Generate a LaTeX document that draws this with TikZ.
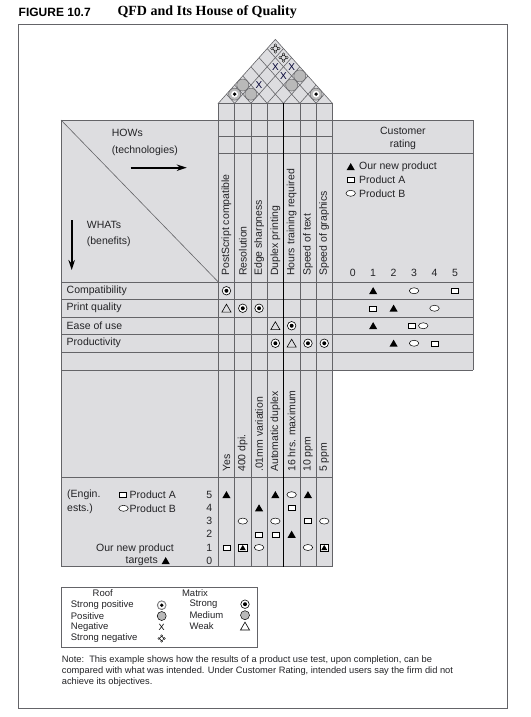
\documentclass[tikz,border=0pt]{standalone}
\usepackage{fontspec}
\setmainfont{Liberation Sans}
\newfontfamily\titleserif{Liberation Serif}
\usetikzlibrary{shapes.geometric, arrows.meta, positioning, calc}

\definecolor{panel}{RGB}{221,221,224}
\definecolor{rule}{RGB}{100,100,104}
\definecolor{ink}{RGB}{35,35,38}

\def\gridx{218.3}
\def\colw{16.3}
\def\roofh{9.13}

\begin{document}
\begin{tikzpicture}[
    x=1pt, y=-1pt,
    font=\fontsize{10.5}{12}\selectfont, text=ink,
    grid/.style={draw=rule, line width=0.6pt},
    txt/.style={inner sep=0pt, anchor=west},
    colhead/.style={rotate=90, anchor=west, inner sep=0pt},
    ourmark/.style={regular polygon, regular polygon sides=3, fill=black, inner sep=0pt,
      minimum size=9.5pt, yshift=-1.1pt},
    amark/.style={rectangle, draw=black, fill=white, line width=0.5pt, inner sep=0pt,
      minimum width=7pt, minimum height=5pt},
    bmark/.style={ellipse, draw=black, fill=white, line width=0.5pt, inner sep=0pt,
      minimum width=9.5pt, minimum height=6pt},
    strongrel/.style={circle, draw=black, fill=white, line width=0.6pt, inner sep=0pt,
      minimum size=8.5pt, path picture={\fill[black] (path picture bounding box.center) circle (2pt);}},
    mediumrel/.style={circle, draw=black, fill=gray!55, line width=0.5pt, inner sep=0pt, minimum size=9pt},
    weakrel/.style={regular polygon, regular polygon sides=3, draw=black, line width=0.6pt,
      inner sep=0pt, minimum size=10.5pt, yshift=-1.2pt},
    roofstrong/.style={circle, draw=rule, fill=gray!55, line width=0.5pt, inner sep=0pt,
      minimum size=12pt, path picture={\fill[white] (path picture bounding box.center) circle (3.4pt);
        \fill[black] (path picture bounding box.center) circle (1.9pt);}},
    roofplus/.style={circle, draw=rule, fill=gray!55, line width=0.5pt, inner sep=0pt, minimum size=12pt},
    roofminus/.style={inner sep=0pt, font=\fontsize{10}{10}\selectfont, text=black!80!blue},
    roofsneg/.style={diamond, draw=black, line width=0.5pt, inner sep=0pt, minimum size=6.5pt},
    arrow/.style={line width=1.6pt, -{Stealth[length=10pt, width=6.5pt]}}
]
\useasboundingbox (0,0) rectangle (530,717);

% title and frame
\node[txt, font=\fontsize{12}{12}\selectfont\bfseries, text=black] (fig) at (18.5,12.5) {FIGURE 10.7};
\node[txt, font=\titleserif\fontsize{14}{14}\selectfont\bfseries, text=black] (title) at (117.3,12.5) {QFD and Its House of Quality};
\draw[rule, line width=0.6pt] (18,24) rectangle (507,708);

% panels
\fill[panel] (61,120) rectangle (473.3,370);
\fill[panel] (61,370) rectangle (332.4,566.7);
\fill[panel] (\gridx,103.3) rectangle (332.4,120);
\filldraw[fill=panel, grid] (\gridx,103.3) -- ({\gridx+3.5*\colw},{103.3-7*\roofh}) -- (332.4,103.3) -- cycle;

% roof lattice
\foreach \a in {1,...,6} {
  \draw[grid] ({\gridx+\a*\colw},103.3) -- ({\gridx+(\a+7)*\colw/2},{103.3-(7-\a)*\roofh});
  \draw[grid] ({\gridx+\a*\colw},103.3) -- ({\gridx+\a*\colw/2},{103.3-\a*\roofh});
}

% grid lines
\draw[grid] (61,120) -- (473.3,120);
\draw[grid] (332.4,153.3) -- (473.3,153.3);
\foreach \y in {103.3,136.7,153.3} \draw[grid] (\gridx,\y) -- (332.4,\y);
\foreach \y in {282,299.5,317,334.5,352,370} \draw[grid] (61,\y) -- (473.3,\y);
\foreach \y in {477.3,566.7} \draw[grid] (61,\y) -- (332.4,\y);
\foreach \i in {0,...,7} \draw[grid] ({\gridx+\i*\colw},103.3) -- ({\gridx+\i*\colw},566.7);
\draw[black, line width=0.8pt] ({\gridx+4*\colw},103.3) -- ({\gridx+4*\colw},566.7);
\draw[grid] (61,120) -- (61,566.7);
\draw[grid] (473.3,120) -- (473.3,370);
\draw[grid] (61,120) -- (\gridx,282);

% roof correlations
\foreach \i/\j [count=\k] in {0/1,5/6}
  \node[roofstrong] (roof-sp-\k) at ({\gridx+(\i+\j+1)*\colw/2},{103.3-(\j-\i)*\roofh}) {};
\foreach \i/\j [count=\k] in {0/2,1/2,3/5,3/6}
  \node[roofplus] (roof-p-\k) at ({\gridx+(\i+\j+1)*\colw/2},{103.3-(\j-\i)*\roofh}) {};
\foreach \i/\j [count=\k] in {1/3,1/5,2/5,2/6}
  \node[roofminus] (roof-n-\k) at ({\gridx+(\i+\j+1)*\colw/2},{103.3-(\j-\i)*\roofh}) {X};
\foreach \i/\j [count=\k] in {0/6,1/6} {
  \node[roofsneg] (roof-sn-\k) at ({\gridx+(\i+\j+1)*\colw/2},{103.3-(\j-\i)*\roofh}) {};
  \foreach \a in {north,south,east,west} \draw[line width=0.4pt, fill=white] (roof-sn-\k.\a) circle (1.2pt);
}

% headers
\node[txt] (hows) at (111.7,133.3) {HOWs};
\node[txt] (hows-sub) at (111.7,150.7) {(technologies)};
\coordinate (howtail) at (130.7,167.7);
\coordinate (howhead) at (186.7,167.7);
\draw[arrow] (howtail) -- (howhead);
\node[txt] (whats) at (86.7,225) {WHATs};
\node[txt] (whats-sub) at (86.7,241.7) {(benefits)};
\coordinate (whattail) at (71.7,220);
\coordinate (whathead) at (71.7,270);
\draw[arrow] (whattail) -- (whathead);

\foreach \t [count=\c] in {PostScript compatible, Resolution, Edge sharpness, Duplex printing,
    Hours training required, Speed of text, Speed of graphics}
  \node[colhead] (how-\c) at ({\gridx+(\c-0.5)*\colw},276) {\t};
\foreach \t [count=\r] in {Compatibility, Print quality, Ease of use, Productivity}
  \node[txt] (what-\r) at (66.5,{282+(\r-0.5)*17.5}) {\t};

% relationship matrix
\foreach \c/\r [count=\k] in {1/1,2/2,3/2,5/3,4/4,6/4,7/4}
  \node[strongrel] (rel-s-\k) at ({\gridx+(\c-0.5)*\colw},{282+(\r-0.5)*17.5}) {};
\foreach \c/\r [count=\k] in {1/2,4/3,5/4}
  \node[weakrel] (rel-w-\k) at ({\gridx+(\c-0.5)*\colw},{282+(\r-0.5)*17.5}) {};

% customer rating
\node[inner sep=0pt, align=center] (rating) at (402.9,138.4) {Customer\\[1.4pt]rating};
\node[ourmark] (key-our) at (350.7,166.7) {};
\node[txt] (key-our-t) at (359,166.7) {Our new product};
\node[amark] (key-a) at (350.7,180) {};
\node[txt] (key-a-t) at (359,180) {Product A};
\node[bmark] (key-b) at (350.7,193.3) {};
\node[txt] (key-b-t) at (359,193.3) {Product B};
\foreach \v in {0,...,5}
  \node[inner sep=0pt] (scale-\v) at ({352.7+\v*20.45},273.3) {\v};
\foreach \v/\r [count=\k] in {1/1,2/2,1/3,2/4}
  \node[ourmark] (cr-our-\k) at ({352.7+\v*20.45},{282+(\r-0.5)*17.5}) {};
\foreach \v/\r [count=\k] in {5/1,1/2,2.9/3,4/4}
  \node[amark] (cr-a-\k) at ({352.7+\v*20.45},{282+(\r-0.5)*17.5}) {};
\foreach \v/\r [count=\k] in {3/1,4/2,3.45/3,3/4}
  \node[bmark] (cr-b-\k) at ({352.7+\v*20.45},{282+(\r-0.5)*17.5}) {};

% target values
\foreach \t [count=\c] in {Yes, 400 dpi., .01mm variation, Automatic duplex,
    16 hrs. maximum, 10 ppm, 5 ppm}
  \node[colhead] (spec-\c) at ({\gridx+(\c-0.5)*\colw},472) {\t};

% engineering estimates
\node[txt] (engin) at (67,495) {(Engin.};
\node[txt] (ests) at (67,508.3) {ests.)};
\node[amark] (est-a) at (123,495) {};
\node[txt] (est-a-t) at (129.5,495) {Product A};
\node[bmark] (est-b) at (123.5,508.3) {};
\node[txt] (est-b-t) at (129.5,508.3) {Product B};
\node[inner sep=0pt] (targets) at (135,548.3) {Our new product};
\node[inner sep=0pt, anchor=east] (targets-t) at (158,560.7) {targets};
\node[ourmark] (targets-m) at (165.7,560.7) {};
\foreach \v in {0,...,5}
  \node[inner sep=0pt] (lvl-\v) at (209.3,{560.7-\v*13.2}) {\v};
\foreach \c/\v [count=\k] in {1/5,3/4,4/5,5/2,6/5}
  \node[ourmark] (tg-our-\k) at ({\gridx+(\c-0.5)*\colw},{560.7-\v*13.2}) {};
\foreach \c/\v [count=\k] in {1/1,3/2,4/2,5/4,6/3}
  \node[amark] (tg-a-\k) at ({\gridx+(\c-0.5)*\colw},{560.7-\v*13.2}) {};
\foreach \c/\v [count=\k] in {2/3,3/1,4/3,5/5,6/1,7/3}
  \node[bmark] (tg-b-\k) at ({\gridx+(\c-0.5)*\colw},{560.7-\v*13.2}) {};
\foreach \c [count=\k] in {2,7} {
  \node[amark, minimum width=8.5pt, minimum height=7.5pt] (tg-ab-\k) at ({\gridx+(\c-0.5)*\colw},547.5) {};
  \node[ourmark, minimum size=7pt, yshift=0.2pt] (tg-ao-\k) at (tg-ab-\k.center) {};
}

% legend
\draw[rule, fill=white, line width=0.6pt] (61.5,587) rectangle (257,647.5);
\begin{scope}[font=\fontsize{9.5}{10}\selectfont]
\node[inner sep=0pt] (leg-roof) at (102.7,593.3) {Roof};
\node[inner sep=0pt] (leg-matrix) at (195,593.3) {Matrix};
\foreach \t [count=\k] in {Strong positive, Positive, Negative, Strong negative}
  \node[txt] (leg-r-\k) at (70.7,{594.3+\k*10.9}) {\t};
\foreach \t [count=\k] in {Strong, Medium, Weak}
  \node[txt] (leg-m-\k) at (189.3,{593.2+\k*10.9}) {\t};
\end{scope}
\node[roofstrong, minimum size=9pt] (leg-rs) at (161.7,605.2) {};
\node[roofplus, minimum size=9pt, draw=black] (leg-rp) at (161.7,616) {};
\node[roofminus, font=\fontsize{9}{9}\selectfont, text=black] (leg-rn) at (161.7,627) {X};
\node[roofsneg, minimum size=5pt] (leg-rsn) at (161.7,638.5) {};
\foreach \a in {north,south,east,west} \draw[line width=0.4pt, fill=white] (leg-rsn.\a) circle (1pt);
\node[strongrel] (leg-ms) at (245,604.2) {};
\node[mediumrel] (leg-mm) at (245,615.2) {};
\node[weakrel] (leg-mw) at (245,626.2) {};

% note
\node[anchor=north west, inner sep=0pt, align=left, font=\fontsize{9.3}{10.6}\selectfont] (note) at (61.7,656)
  {Note:\ \ This example shows how the results of a product use test, upon completion, can be\\
   compared with what was intended. Under Customer Rating, intended users say the firm did not\\
   achieve its objectives.};
\end{tikzpicture}
\end{document}
